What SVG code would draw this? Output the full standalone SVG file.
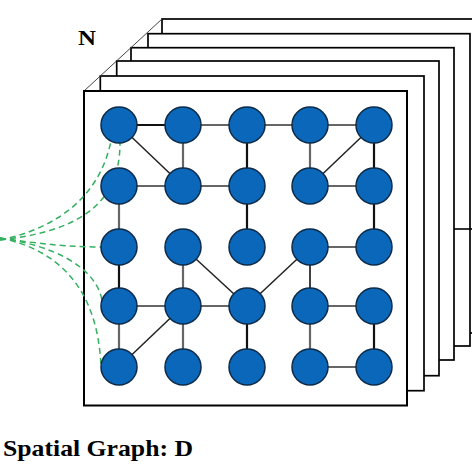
<svg xmlns="http://www.w3.org/2000/svg" width="472" height="472" viewBox="0 0 472 472">
<style>
.frame{fill:#fff;stroke:#000;stroke-width:1.7}
.front{fill:#fff;stroke:#000;stroke-width:2}
.node{fill:#0a67b9;stroke:#0d2a47;stroke-width:1.5}
.k{stroke:#111;stroke-width:2.2;fill:none}
.g{stroke:#666;stroke-width:2.2;fill:none}
.d{stroke:#222;stroke-width:1.5;fill:none}
.dash{stroke:#34b060;stroke-width:1.5;stroke-dasharray:6 4;fill:none}
.lbl{font-family:"Liberation Serif","Times New Roman",serif;font-weight:bold;fill:#000}
</style>
<rect width="472" height="472" fill="#fff"/>
<g id="layers">
<rect class="frame" x="162" y="19" width="324" height="314"/>
<rect class="frame" x="148" y="33.7" width="322" height="312.3"/>
<line x1="453" y1="229" x2="472" y2="229" stroke="#000" stroke-width="1.6"/>
<rect class="frame" x="131" y="47.7" width="323" height="312.3"/>
<rect class="frame" x="116.7" y="61" width="322.3" height="314.7"/>
<rect class="frame" x="100.3" y="76" width="323.7" height="314.7"/>
<line x1="84" y1="91" x2="162" y2="19" stroke="#444" stroke-width="1"/>
<rect class="front" x="84" y="91" width="323" height="314.5"/>
</g>
<text class="lbl" x="78" y="45" font-size="22" textLength="18" lengthAdjust="spacingAndGlyphs">N</text>
<g id="connectors">
<path class="dash" d="M0,240 C50,230 105,200 113,128"/>
<path class="dash" d="M0,240 C70,232 120,210 120,143"/>
<path class="dash" d="M0,238 C40,244 70,247 101,247"/>
<path class="dash" d="M0,238 C50,245 95,265 102,300"/>
<path class="dash" d="M0,238 C60,250 98,290 101,367"/>
<line class="k" x1="119" y1="125" x2="183" y2="125"/>
<line class="g" x1="183" y1="125" x2="247" y2="125"/>
<line class="g" x1="247" y1="125" x2="310" y2="125"/>
<line class="g" x1="310" y1="125" x2="374" y2="125"/>
<line class="d" x1="119" y1="125" x2="183" y2="186"/>
<line class="g" x1="183" y1="125" x2="183" y2="186"/>
<line class="k" x1="247" y1="125" x2="247" y2="186"/>
<line class="g" x1="310" y1="125" x2="310" y2="186"/>
<line class="d" x1="374" y1="125" x2="310" y2="186"/>
<line class="k" x1="374" y1="125" x2="374" y2="186"/>
<line class="g" x1="119" y1="186" x2="183" y2="186"/>
<line class="g" x1="183" y1="186" x2="247" y2="186"/>
<line class="g" x1="310" y1="186" x2="374" y2="186"/>
<line class="g" x1="119" y1="186" x2="119" y2="247"/>
<line class="k" x1="247" y1="186" x2="247" y2="247"/>
<line class="k" x1="374" y1="186" x2="374" y2="247"/>
<line class="g" x1="310" y1="247" x2="374" y2="247"/>
<line class="k" x1="119" y1="247" x2="119" y2="306"/>
<line class="g" x1="183" y1="247" x2="183" y2="306"/>
<line class="d" x1="183" y1="247" x2="247" y2="306"/>
<line class="d" x1="310" y1="247" x2="247" y2="306"/>
<line class="k" x1="310" y1="247" x2="310" y2="306" style="stroke-width:1.6"/>
<line class="g" x1="119" y1="306" x2="183" y2="306"/>
<line class="g" x1="183" y1="306" x2="247" y2="306"/>
<line class="g" x1="310" y1="306" x2="374" y2="306"/>
<line class="g" x1="119" y1="306" x2="119" y2="367"/>
<line class="d" x1="183" y1="306" x2="119" y2="367"/>
<line class="g" x1="183" y1="306" x2="183" y2="367"/>
<line class="k" x1="247" y1="306" x2="247" y2="367"/>
<line class="g" x1="310" y1="306" x2="310" y2="367"/>
<line class="k" x1="374" y1="306" x2="374" y2="367"/>
<line class="g" x1="310" y1="367" x2="374" y2="367"/>
</g>
<g id="n11"><circle class="node" cx="119" cy="125" r="18"/></g>
<g id="n12"><circle class="node" cx="183" cy="125" r="18"/></g>
<g id="n13"><circle class="node" cx="247" cy="125" r="18"/></g>
<g id="n14"><circle class="node" cx="310" cy="125" r="18"/></g>
<g id="n15"><circle class="node" cx="374" cy="125" r="18"/></g>
<g id="n21"><circle class="node" cx="119" cy="186" r="18"/></g>
<g id="n22"><circle class="node" cx="183" cy="186" r="18"/></g>
<g id="n23"><circle class="node" cx="247" cy="186" r="18"/></g>
<g id="n24"><circle class="node" cx="310" cy="186" r="18"/></g>
<g id="n25"><circle class="node" cx="374" cy="186" r="18"/></g>
<g id="n31"><circle class="node" cx="119" cy="247" r="18"/></g>
<g id="n32"><circle class="node" cx="183" cy="247" r="18"/></g>
<g id="n33"><circle class="node" cx="247" cy="247" r="18"/></g>
<g id="n34"><circle class="node" cx="310" cy="247" r="18"/></g>
<g id="n35"><circle class="node" cx="374" cy="247" r="18"/></g>
<g id="n41"><circle class="node" cx="119" cy="306" r="18"/></g>
<g id="n42"><circle class="node" cx="183" cy="306" r="18"/></g>
<g id="n43"><circle class="node" cx="247" cy="306" r="18"/></g>
<g id="n44"><circle class="node" cx="310" cy="306" r="18"/></g>
<g id="n45"><circle class="node" cx="374" cy="306" r="18"/></g>
<g id="n51"><circle class="node" cx="119" cy="367" r="18"/></g>
<g id="n52"><circle class="node" cx="183" cy="367" r="18"/></g>
<g id="n53"><circle class="node" cx="247" cy="367" r="18"/></g>
<g id="n54"><circle class="node" cx="310" cy="367" r="18"/></g>
<g id="n55"><circle class="node" cx="374" cy="367" r="18"/></g>
<text class="lbl" x="3" y="456" font-size="23" textLength="190" lengthAdjust="spacingAndGlyphs">Spatial Graph: D</text>
</svg>
